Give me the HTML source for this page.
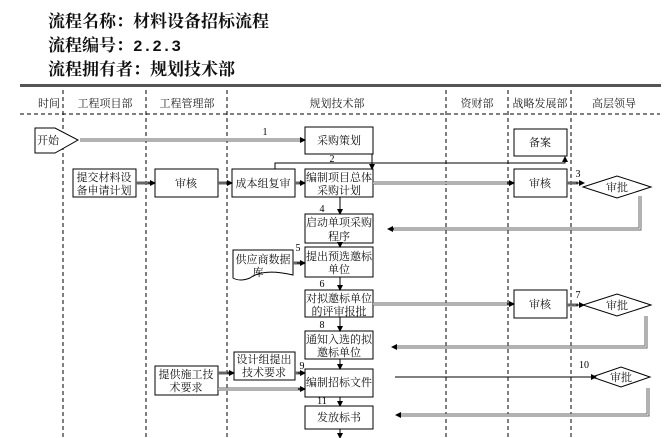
<!DOCTYPE html>
<html><head><meta charset="utf-8"><style>
body{margin:0;background:#fff;width:671px;height:438px;overflow:hidden;position:relative;font-family:"Liberation Serif","Noto Serif CJK SC",serif}
.t{position:absolute;left:48px;font-size:17px;font-weight:bold;font-family:"Liberation Serif","Noto Serif CJK SC",serif;color:#111}
.m{font-family:"Liberation Mono",monospace;font-size:16px}
</style></head><body>
<div class="t" style="top:7px">流程名称：材料设备招标流程</div>
<div class="t" style="top:31px">流程编号：<span class="m">2.2.3</span></div>
<div class="t" style="top:55px">流程拥有者：规划技术部</div>
<svg width="671" height="438" style="position:absolute;left:0;top:0" font-family="Liberation Serif, Noto Serif CJK SC, serif" font-size="11">
<defs><marker id="a" markerWidth="6" markerHeight="6" refX="5" refY="3" orient="auto" markerUnits="userSpaceOnUse"><path d="M0,0L6,3L0,6z" fill="#000"/></marker></defs>
<rect x="20" y="84" width="641" height="3" fill="#555"/>
<g stroke="#000" stroke-dasharray="4,3" stroke-width="1">
<line x1="20" y1="114" x2="660" y2="114"/>
<line x1="63" y1="90" x2="63" y2="438"/><line x1="146" y1="90" x2="146" y2="438"/><line x1="227" y1="90" x2="227" y2="438"/>
<line x1="446" y1="90" x2="446" y2="438"/><line x1="508" y1="90" x2="508" y2="438"/><line x1="571" y1="90" x2="571" y2="438"/>
</g>
<g font-size="11" text-anchor="middle" fill="#222">
<text x="49" y="107">时间</text><text x="105" y="107">工程项目部</text><text x="187" y="107">工程管理部</text><text x="337" y="107">规划技术部</text>
<text x="477" y="107">资财部</text><text x="540" y="107">战略发展部</text><text x="614" y="107">高层领导</text>
</g>
<g fill="#fff" stroke="#000">
<path d="M35,128H55L78,140L55,153H35Z"/>
<rect x="305" y="127" width="68" height="27"/>
<rect x="514" y="129" width="53" height="27"/>
<rect x="73" y="169" width="63" height="28"/>
<rect x="155" y="169" width="63" height="28"/>
<rect x="232" y="169" width="63" height="28"/>
<rect x="305" y="169" width="68" height="28"/>
<rect x="514" y="169" width="53" height="28"/>
<path d="M583,187L617,176L651,187L617,198Z"/>
<rect x="305" y="214" width="68" height="29"/>
<path d="M233,250H293V275Q263,268 250,278Q240,282 233,278Z"/>
<rect x="305" y="247" width="68" height="30"/>
<rect x="305" y="290" width="68" height="27"/>
<rect x="514" y="290" width="53" height="28"/>
<path d="M583,305L617,294L651,305L617,316Z"/>
<rect x="305" y="331" width="68" height="28"/>
<rect x="234" y="352" width="61" height="28"/>
<rect x="155" y="366" width="63" height="29"/>
<rect x="305" y="369" width="68" height="28"/>
<path d="M592,377L621,367L650,377L621,387Z"/>
<rect x="305" y="406" width="68" height="23"/>
</g>
<g fill="none" stroke="#666" stroke-width="3">
<line x1="80" y1="140" x2="300" y2="140"/>
<line x1="136" y1="183" x2="150" y2="183"/><line x1="218" y1="183" x2="228" y2="183"/><line x1="295" y1="183" x2="300" y2="183"/>
<line x1="373" y1="183" x2="509" y2="183"/><line x1="567" y1="183" x2="578" y2="183"/>
<polyline points="640,196 640,229 392,229"/>
<line x1="293" y1="263" x2="300" y2="263"/>
<line x1="373" y1="304" x2="509" y2="304"/><line x1="567" y1="305" x2="578" y2="305"/>
<polyline points="646,316 646,347 394,347"/>
<line x1="218" y1="373" x2="229" y2="373"/><line x1="295" y1="373" x2="300" y2="373"/>
<line x1="218" y1="389" x2="300" y2="389"/>
<polyline points="648,388 648,415 398,415"/>
</g>
<g fill="none" stroke="#fff" stroke-width="1">
<line x1="80" y1="140" x2="300" y2="140"/><line x1="373" y1="183" x2="509" y2="183"/><polyline points="640,196 640,229 392,229"/><line x1="373" y1="304" x2="509" y2="304"/><polyline points="646,316 646,347 394,347"/><line x1="218" y1="389" x2="300" y2="389"/><polyline points="648,388 648,415 398,415"/>
</g>
<g stroke="#000" stroke-width="1" fill="none" marker-end="url(#a)">
<line x1="300" y1="140" x2="305" y2="140"/>
<line x1="148" y1="183" x2="155" y2="183"/><line x1="226" y1="183" x2="232" y2="183"/><line x1="299" y1="183" x2="305" y2="183"/>
<line x1="507" y1="183" x2="514" y2="183"/><line x1="576" y1="183" x2="584" y2="183"/>
<line x1="394" y1="229" x2="388" y2="229"/>
<line x1="372" y1="154" x2="372" y2="169"/>
<polyline points="275,169 275,163 565,163 565,157"/>
<line x1="340" y1="197" x2="340" y2="214"/><line x1="340" y1="243" x2="340" y2="247"/>
<line x1="297" y1="263" x2="305" y2="263"/>
<line x1="340" y1="277" x2="340" y2="290"/><line x1="340" y1="317" x2="340" y2="331"/>
<line x1="507" y1="304" x2="514" y2="304"/><line x1="576" y1="305" x2="584" y2="305"/>
<line x1="396" y1="347" x2="392" y2="347"/>
<line x1="340" y1="359" x2="340" y2="369"/>
<line x1="227" y1="373" x2="234" y2="373"/><line x1="298" y1="373" x2="305" y2="373"/><line x1="298" y1="389" x2="305" y2="389"/>
<line x1="395" y1="377" x2="596" y2="377"/>
<line x1="400" y1="415" x2="396" y2="415"/>
<line x1="340" y1="397" x2="340" y2="406"/><line x1="340" y1="429" x2="340" y2="438"/>
</g>
<g text-anchor="middle" fill="#111">
<text x="48" y="144">开始</text><text x="339" y="144">采购策划</text><text x="540" y="146">备案</text>
<text x="104" y="181">提交材料设</text><text x="104" y="194">备申请计划</text>
<text x="186" y="187">审核</text><text x="263" y="187">成本组复审</text>
<text x="339" y="181">编制项目总体</text><text x="339" y="194">采购计划</text>
<text x="540" y="187">审核</text><text x="617" y="191">审批</text>
<text x="339" y="226">启动单项采购</text><text x="339" y="240">程序</text>
<text x="263" y="263">供应商数据</text><text x="258" y="276">库</text>
<text x="339" y="260">提出预选邀标</text><text x="339" y="273">单位</text>
<text x="339" y="302">对拟邀标单位</text><text x="339" y="315">的评审报批</text>
<text x="540" y="308">审核</text><text x="617" y="309">审批</text>
<text x="339" y="343">通知入选的拟</text><text x="339" y="356">邀标单位</text>
<text x="264" y="363">设计组提出</text><text x="264" y="376">技术要求</text>
<text x="186" y="378">提供施工技</text><text x="186" y="391">术要求</text>
<text x="339" y="386">编制招标文件</text><text x="621" y="381">审批</text>
<text x="339" y="421">发放标书</text>
</g>
<g font-size="10" fill="#000" text-anchor="middle">
<text x="265" y="135">1</text><text x="332" y="162">2</text><text x="578" y="177">3</text><text x="322" y="212">4</text>
<text x="298" y="251">5</text><text x="322" y="287">6</text><text x="578" y="298">7</text><text x="322" y="328">8</text>
<text x="302" y="369">9</text><text x="584" y="368">10</text><text x="322" y="404">11</text>
</g>
</svg>
</body></html>
